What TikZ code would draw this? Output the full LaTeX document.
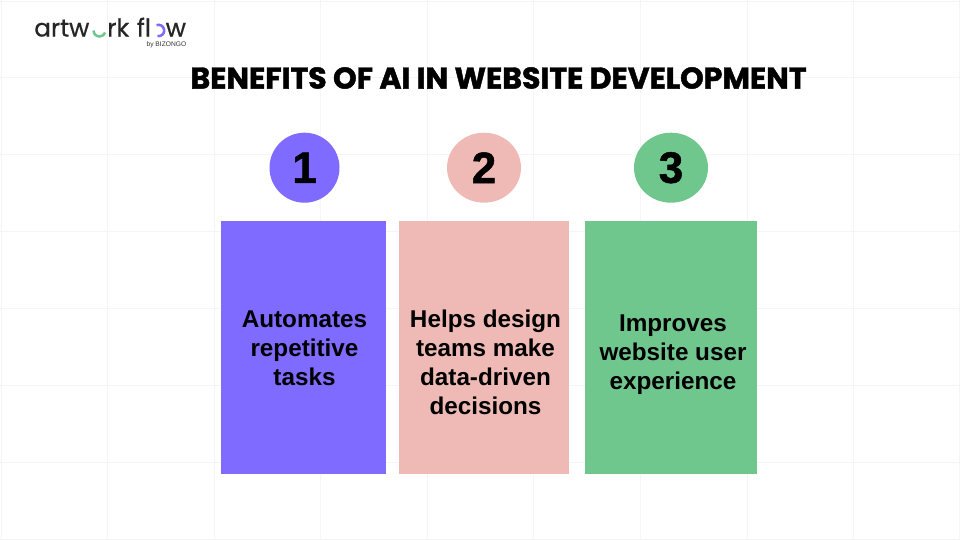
\documentclass[tikz,border=0pt]{standalone}
\usepackage{fontspec}
\usetikzlibrary{shapes.geometric}
\setmainfont{Liberation Sans}
\newfontfamily\titlefont[BoldFeatures={FakeBold=1.5}]{Poppins}
\newfontfamily\logofont[FakeBold=0.6]{Poppins}
\newfontfamily\digitfont[FakeBold=1.2]{Liberation Sans Bold}
\definecolor{gridc}{HTML}{F5F5F5}
\definecolor{purp}{HTML}{7F6BFF}
\definecolor{pinkc}{HTML}{EFBAB5}
\definecolor{greenc}{HTML}{70C78E}
\tikzset{
  px/.style={x=0.75pt,y=-0.75pt},
  gridline/.style={draw=gridc,line width=0.75pt},
  card/.style={fill=#1,draw=none},
  numdisc/.style={ellipse,fill=#1,draw=none,inner sep=0pt,minimum height=52.5pt,font=\digitfont\fontsize{33}{33}\selectfont,text=black},
  cardtext/.style={font=\fontsize{18.2}{21.8}\selectfont\bfseries,align=center,text=black,inner sep=0pt},
  logotext/.style={font=\logofont\fontsize{18.5}{18.5}\selectfont,anchor=base west,inner sep=0pt,text=black!85},
}
\begin{document}
\begin{tikzpicture}[px]
\useasboundingbox (0,0) rectangle (960,540);
\fill[white] (0,0) rectangle (960,540);
\foreach \x in {1,107,214,320,427,533,640,747,853,959} \draw[gridline] (\x,0) -- (\x,540);
\foreach \y in {1,77,154,231,308,385,462,539} \draw[gridline] (0,\y) -- (960,\y);
% logo
\node[logotext] (l1) at (34,36.5) {artw};
\node[logotext] (l2) at (107,36.5) {rk};
\node[logotext] (l3) at (136.5,36.5) {fl};
\node[logotext] (l4) at (165.5,36.5) {w};
\draw[greenc,line width=1.9pt] (93.5,30.5) arc[start angle=180,end angle=20,radius=6];
\draw[purp,line width=1.9pt] (156.55,25.14) arc[start angle=-110,end angle=100,radius=5.7];
\node[font=\fontsize{5}{5}\selectfont,anchor=base east,inner sep=0pt,text=black!80] (by) at (186.5,46) {by BIZONGO};
% title
\node[font=\titlefont\fontsize{22.5}{22.5}\selectfont\bfseries,text=black,inner sep=0pt] (title) at (498.5,78) {BENEFITS OF AI IN WEBSITE DEVELOPMENT};
% discs
\node[numdisc=purp,minimum width=52.5pt] (n1) at (304.5,167.7) {\raisebox{-0.6pt}{1}};
\node[numdisc=pinkc,minimum width=55.5pt] (n2) at (484,167.7) {\raisebox{-0.6pt}{2}};
\node[numdisc=greenc,minimum width=55.5pt] (n3) at (671,167.7) {\raisebox{-0.6pt}{3}};
% cards
\fill[card=purp] (221,221) rectangle (385.5,473.5);
\fill[card=pinkc] (399,221) rectangle (569,473.5);
\fill[card=greenc] (585,221) rectangle (757,473.5);
\node[cardtext] (t1) at (304.5,348) {Automates\\repetitive\\tasks};
\node[cardtext] (t2) at (485.5,362) {Helps design\\teams make\\data-driven\\decisions};
\node[cardtext] (t3) at (673,355) {Improves\\website user\\experience};
\end{tikzpicture}
\end{document}
